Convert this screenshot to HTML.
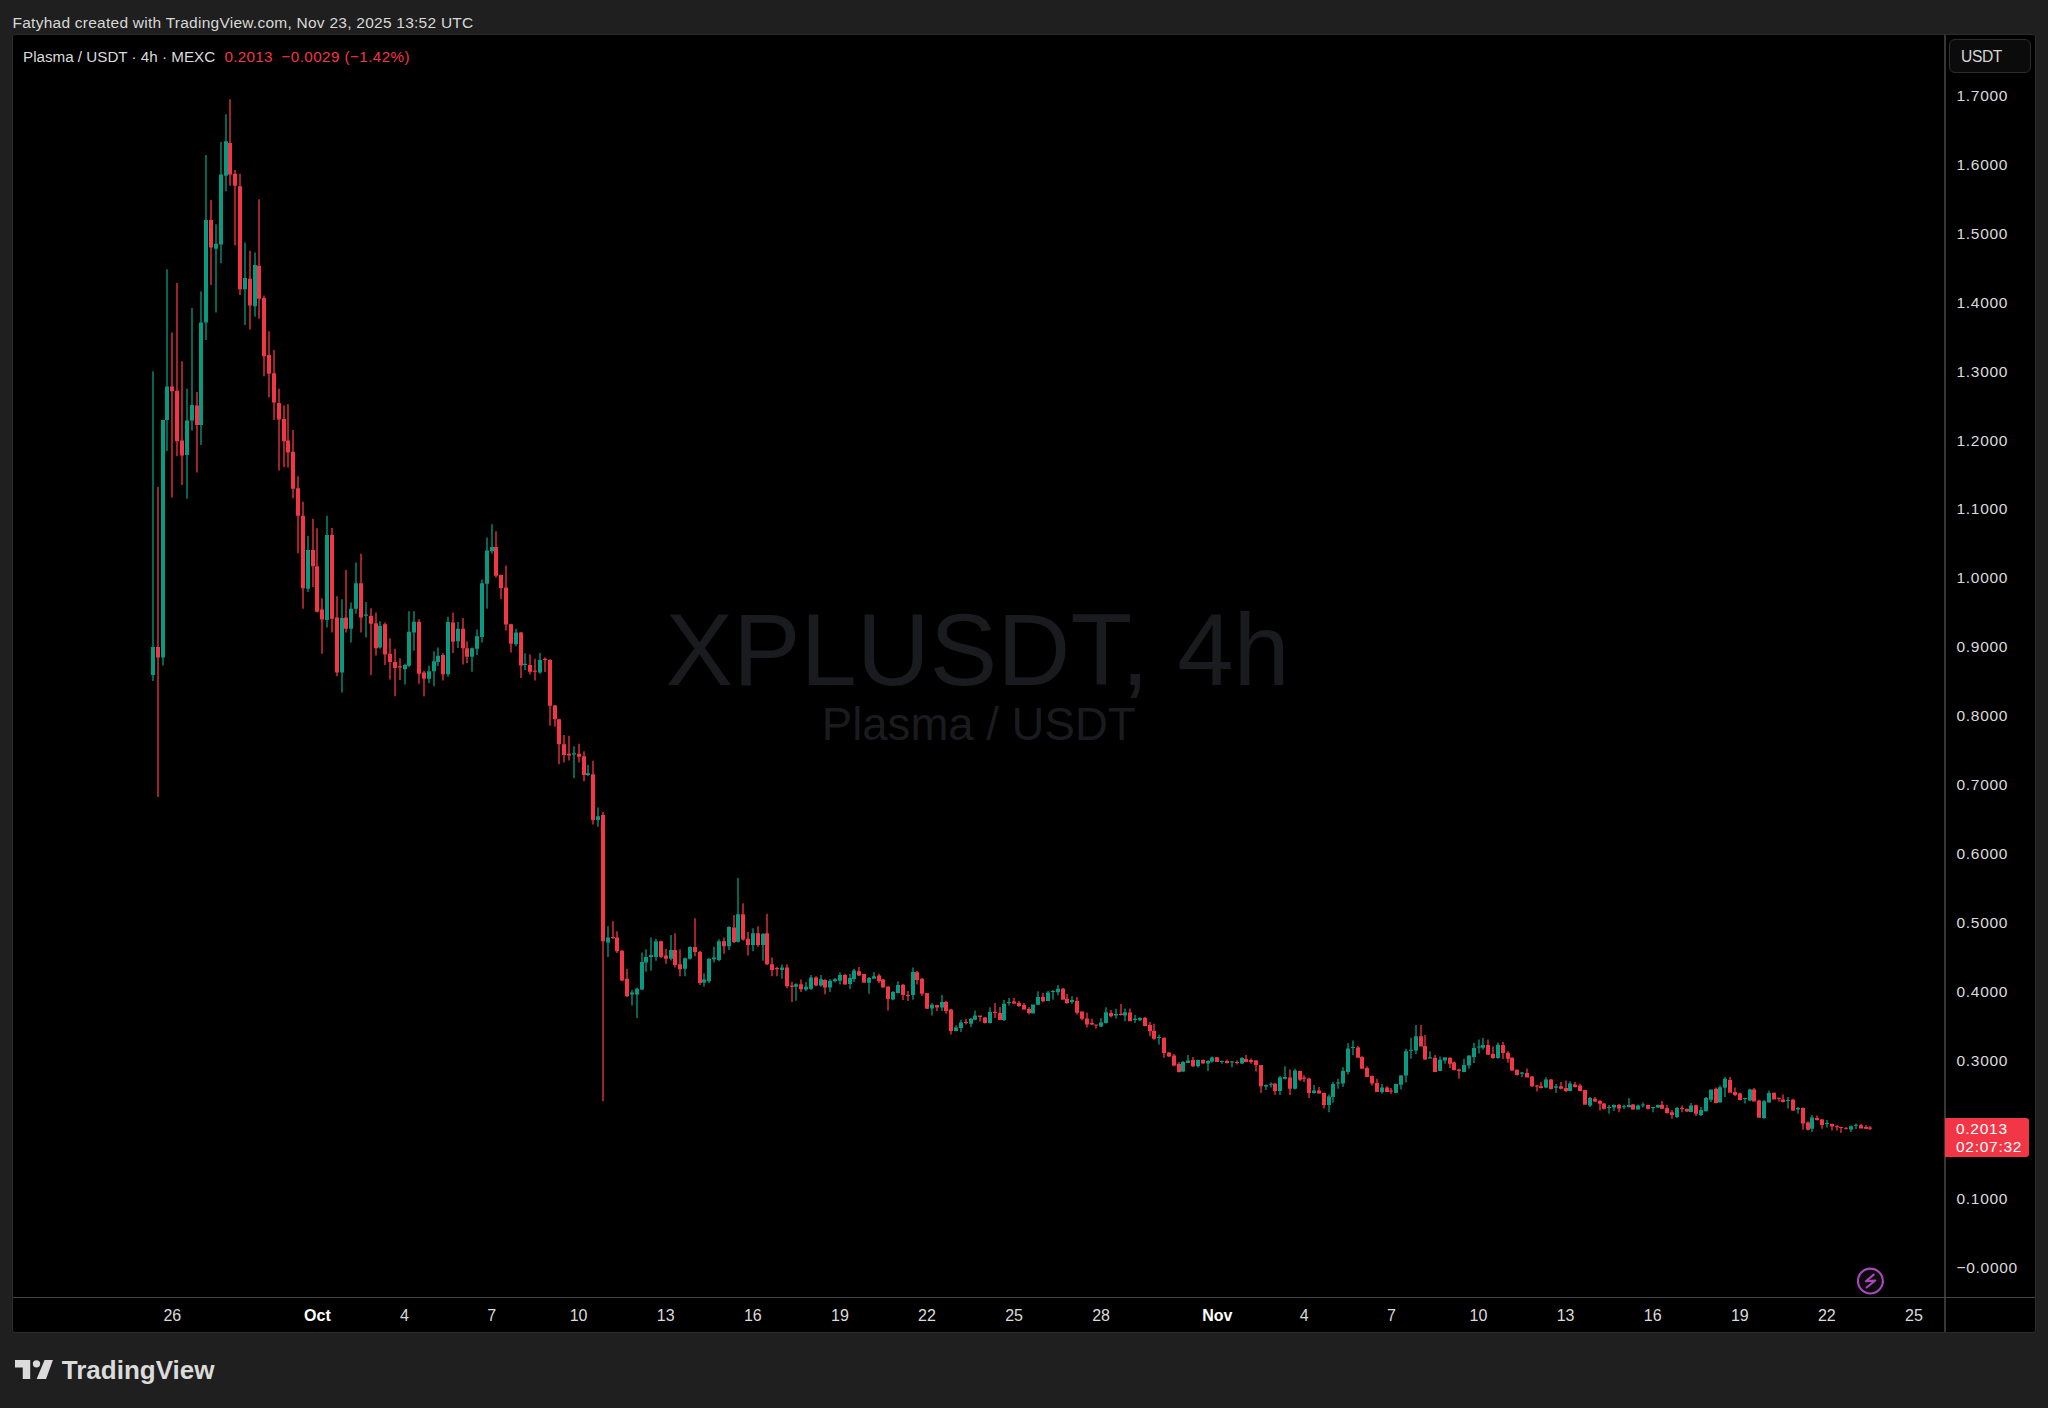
<!DOCTYPE html>
<html><head><meta charset="utf-8"><style>
*{margin:0;padding:0;box-sizing:border-box}
html,body{width:2048px;height:1408px;overflow:hidden;background:#1f1f1f;font-family:"Liberation Sans", sans-serif;}
.abs{position:absolute;white-space:pre}
#top{left:12.5px;top:14.3px;font-size:15.5px;letter-spacing:0.25px;color:#d8d8d8;line-height:18px}
#frame{position:absolute;left:12px;top:34px;width:2024px;height:1299px;border:1px solid #2b2b2b;border-radius:3px;background:#000}
.lg{top:48px;font-size:15.2px;line-height:18px}
.pl{position:absolute;left:1956.5px;font-size:15.5px;letter-spacing:0.7px;color:#dbdbdb;line-height:18px;white-space:pre}
.tl{position:absolute;top:1307px;width:80px;text-align:center;font-size:16px;color:#dbdbdb;line-height:18px}
.tl.b{font-weight:bold;color:#fff}
#usdt{position:absolute;left:1949px;top:39px;width:82px;height:34px;border:1px solid #2c2d30;border-radius:6px;background:#0b0b0b;color:#d6d6d6;font-size:15.6px;letter-spacing:-0.35px;line-height:34.4px;padding-left:11px}
#plabel{position:absolute;left:1945px;top:1118px;width:84px;height:39px;background:#f23645;border-radius:0 3px 3px 0;}
.plt{position:absolute;left:1956px;font-size:15.5px;letter-spacing:0.72px;color:#fff;line-height:18px;white-space:pre}
.wm{position:absolute;left:13px;width:1931px;text-align:center;color:#1a1b1e;white-space:pre}
svg{position:absolute}
</style></head><body>
<div id="frame"></div>
<div class="abs" id="top">Fatyhad created with TradingView.com, Nov 23, 2025 13:52 UTC</div>
<div class="wm" style="top:591.7px;left:12.15px;font-size:101.2px;line-height:115px">XPLUSDT, 4h</div>
<div class="wm" style="top:699px;font-size:45.56px;line-height:52px;padding-left:0.4px">Plasma / USDT</div>
<div class="abs" style="left:1944px;top:35px;width:2px;height:1297px;background:#363636"></div>
<div class="abs" style="left:13px;top:1297px;width:2022px;height:1px;background:#444"></div>
<div class="abs lg" style="left:23px;color:#dbdbdb">Plasma / USDT · 4h · MEXC</div>
<div class="abs lg" style="left:224.6px;color:#f23645;letter-spacing:0.3px">0.2013</div>
<div class="abs lg" style="left:281.5px;color:#f23645;letter-spacing:0.43px">−0.0029 (−1.42%)</div>
<div id="usdt">USDT</div>
<div class="pl" style="top:86.8px">1.7000</div><div class="pl" style="top:155.7px">1.6000</div><div class="pl" style="top:224.7px">1.5000</div><div class="pl" style="top:293.6px">1.4000</div><div class="pl" style="top:362.6px">1.3000</div><div class="pl" style="top:431.5px">1.2000</div><div class="pl" style="top:500.4px">1.1000</div><div class="pl" style="top:569.4px">1.0000</div><div class="pl" style="top:638.3px">0.9000</div><div class="pl" style="top:707.3px">0.8000</div><div class="pl" style="top:776.2px">0.7000</div><div class="pl" style="top:845.1px">0.6000</div><div class="pl" style="top:914.1px">0.5000</div><div class="pl" style="top:983.0px">0.4000</div><div class="pl" style="top:1052.0px">0.3000</div><div class="pl" style="top:1189.8px">0.1000</div><div class="pl" style="top:1258.8px">−0.0000</div>
<div class="tl" style="left:132.3px">26</div><div class="tl b" style="left:277.4px">Oct</div><div class="tl" style="left:364.5px">4</div><div class="tl" style="left:451.6px">7</div><div class="tl" style="left:538.6px">10</div><div class="tl" style="left:625.7px">13</div><div class="tl" style="left:712.8px">16</div><div class="tl" style="left:799.9px">19</div><div class="tl" style="left:887.0px">22</div><div class="tl" style="left:974.1px">25</div><div class="tl" style="left:1061.1px">28</div><div class="tl b" style="left:1177.3px">Nov</div><div class="tl" style="left:1264.3px">4</div><div class="tl" style="left:1351.4px">7</div><div class="tl" style="left:1438.5px">10</div><div class="tl" style="left:1525.6px">13</div><div class="tl" style="left:1612.7px">16</div><div class="tl" style="left:1699.8px">19</div><div class="tl" style="left:1786.8px">22</div><div class="tl" style="left:1873.9px">25</div>
<svg width="2048" height="1408" viewBox="0 0 2048 1408" style="left:0;top:0"><path fill="#089981" d="M152.35 371.25h1.3v309.75h-1.3zM151 647.00h4v28.00h-4zM162.35 420.00h1.3v245.50h-1.3zM161 420.00h4v237.50h-4zM166.35 269.25h1.3v181.75h-1.3zM165 386.50h4v33.50h-4zM186.35 388.75h1.3v110.00h-1.3zM185 420.50h4v34.50h-4zM191.35 308.00h1.3v122.50h-1.3zM190 405.00h4v15.50h-4zM200.35 291.25h1.3v153.75h-1.3zM199 322.50h4v102.50h-4zM205.35 155.00h1.3v185.00h-1.3zM204 220.00h4v102.50h-4zM215.35 224.25h1.3v88.25h-1.3zM214 243.75h4v5.00h-4zM220.35 142.00h1.3v121.25h-1.3zM219 174.50h4v70.00h-4zM225.35 114.25h1.3v77.00h-1.3zM224 141.25h4v34.50h-4zM244.35 242.50h1.3v82.50h-1.3zM243 278.00h4v11.25h-4zM254.35 252.50h1.3v64.25h-1.3zM253 265.00h4v41.25h-4zM307.35 535.75h1.3v56.25h-1.3zM306 550.00h4v38.75h-4zM326.35 515.75h1.3v111.75h-1.3zM325 535.00h4v85.00h-4zM341.35 599.25h1.3v93.25h-1.3zM340 618.00h4v54.50h-4zM350.35 602.50h1.3v40.00h-1.3zM349 608.75h4v20.00h-4zM355.35 562.50h1.3v51.25h-1.3zM354 583.25h4v25.50h-4zM365.35 602.00h1.3v35.50h-1.3zM364 614.50h4v1.25h-4zM379.35 621.25h1.3v27.50h-1.3zM378 625.75h4v21.75h-4zM404.35 663.75h1.3v20.75h-1.3zM403 665.00h4v4.25h-4zM408.35 611.25h1.3v55.75h-1.3zM407 631.75h4v34.00h-4zM413.35 611.25h1.3v39.50h-1.3zM412 621.75h4v10.75h-4zM428.35 665.75h1.3v17.50h-1.3zM427 671.25h4v7.50h-4zM433.35 651.25h1.3v35.00h-1.3zM432 661.25h4v10.00h-4zM437.35 647.50h1.3v18.75h-1.3zM436 655.75h4v6.25h-4zM447.35 616.75h1.3v60.00h-1.3zM446 622.00h4v52.25h-4zM457.35 622.00h1.3v26.00h-1.3zM456 628.75h4v12.50h-4zM471.35 647.50h1.3v24.25h-1.3zM470 648.25h4v8.50h-4zM476.35 629.50h1.3v25.50h-1.3zM475 636.25h4v12.50h-4zM481.35 579.50h1.3v63.00h-1.3zM480 583.25h4v53.75h-4zM486.35 537.50h1.3v71.25h-1.3zM485 550.50h4v33.25h-4zM491.35 524.25h1.3v29.50h-1.3zM490 547.00h4v4.25h-4zM515.35 628.75h1.3v17.50h-1.3zM514 632.50h4v11.75h-4zM524.35 653.25h1.3v16.75h-1.3zM523 663.75h4v1.25h-4zM539.35 653.00h1.3v20.75h-1.3zM538 660.00h4v12.50h-4zM573.35 746.25h1.3v32.00h-1.3zM572 753.25h4v1.25h-4zM587.35 765.00h1.3v11.25h-1.3zM586 773.25h4v1.75h-4zM597.35 807.50h1.3v19.25h-1.3zM596 816.25h4v3.75h-4zM607.35 926.25h1.3v30.75h-1.3zM606 937.50h4v5.00h-4zM631.35 990.00h1.3v15.50h-1.3zM630 992.50h4v2.00h-4zM636.35 987.50h1.3v30.50h-1.3zM635 988.75h4v5.75h-4zM641.35 952.50h1.3v37.50h-1.3zM640 962.00h4v27.50h-4zM645.35 949.25h1.3v22.50h-1.3zM644 957.00h4v5.50h-4zM650.35 937.50h1.3v33.25h-1.3zM649 955.00h4v2.00h-4zM655.35 938.75h1.3v22.00h-1.3zM654 941.25h4v15.75h-4zM670.35 935.00h1.3v25.50h-1.3zM669 950.00h4v8.75h-4zM684.35 957.50h1.3v18.75h-1.3zM683 958.25h4v10.50h-4zM689.35 946.25h1.3v13.25h-1.3zM688 947.00h4v11.75h-4zM703.35 973.25h1.3v13.50h-1.3zM702 979.50h4v3.00h-4zM708.35 958.00h1.3v25.00h-1.3zM707 958.75h4v22.50h-4zM713.35 946.75h1.3v15.75h-1.3zM712 957.50h4v1.75h-4zM718.35 939.25h1.3v22.00h-1.3zM717 941.25h4v18.75h-4zM728.35 926.25h1.3v23.75h-1.3zM727 927.00h4v19.25h-4zM737.35 878.00h1.3v64.50h-1.3zM736 914.25h4v27.50h-4zM752.35 928.25h1.3v23.00h-1.3zM751 933.25h4v11.75h-4zM762.35 933.25h1.3v27.50h-1.3zM761 933.75h4v11.25h-4zM781.35 964.50h1.3v14.25h-1.3zM780 967.50h4v2.50h-4zM795.35 983.25h1.3v17.50h-1.3zM794 984.25h4v2.50h-4zM805.35 982.00h1.3v9.25h-1.3zM804 986.75h4v2.75h-4zM810.35 975.00h1.3v15.00h-1.3zM809 977.50h4v11.25h-4zM820.35 975.00h1.3v11.75h-1.3zM819 979.25h4v6.25h-4zM829.35 979.25h1.3v12.75h-1.3zM828 980.75h4v6.75h-4zM834.35 978.00h1.3v4.50h-1.3zM833 979.25h4v2.00h-4zM839.35 972.50h1.3v12.00h-1.3zM838 975.00h4v5.75h-4zM849.35 974.00h1.3v15.00h-1.3zM848 978.10h4v5.90h-4zM853.35 968.75h1.3v13.15h-1.3zM852 970.60h4v8.40h-4zM868.35 976.90h1.3v16.85h-1.3zM867 978.10h4v4.65h-4zM873.35 971.90h1.3v6.85h-1.3zM872 976.25h4v2.50h-4zM892.35 990.90h1.3v9.35h-1.3zM891 991.90h4v7.50h-4zM897.35 981.25h1.3v12.25h-1.3zM896 985.00h4v8.10h-4zM912.35 967.50h1.3v32.25h-1.3zM911 971.90h4v23.10h-4zM931.35 1003.10h1.3v12.50h-1.3zM930 1004.75h4v3.75h-4zM941.35 995.00h1.3v16.00h-1.3zM940 1002.10h4v5.40h-4zM955.35 1025.25h1.3v6.00h-1.3zM954 1027.50h4v3.50h-4zM960.35 1019.75h1.3v12.15h-1.3zM959 1022.50h4v5.60h-4zM970.35 1018.10h1.3v8.80h-1.3zM969 1019.00h4v4.75h-4zM974.35 1010.40h1.3v9.60h-1.3zM973 1015.40h4v4.35h-4zM989.35 1007.25h1.3v16.25h-1.3zM988 1011.90h4v11.20h-4zM1003.35 1000.00h1.3v21.00h-1.3zM1002 1003.75h4v16.25h-4zM1008.35 998.10h1.3v7.30h-1.3zM1007 1001.90h4v1.00h-4zM1032.35 1004.40h1.3v9.10h-1.3zM1031 1004.40h4v9.10h-4zM1037.35 991.25h1.3v13.75h-1.3zM1036 996.90h4v7.85h-4zM1047.35 991.00h1.3v10.00h-1.3zM1046 992.50h4v8.50h-4zM1052.35 990.00h1.3v9.75h-1.3zM1051 991.00h4v1.00h-4zM1057.35 985.00h1.3v10.25h-1.3zM1056 988.75h4v3.50h-4zM1071.35 996.25h1.3v7.50h-1.3zM1070 1000.00h4v1.90h-4zM1100.35 1018.10h1.3v8.80h-1.3zM1099 1022.50h4v4.00h-4zM1105.35 1007.25h1.3v16.25h-1.3zM1104 1012.25h4v10.85h-4zM1115.35 1008.75h1.3v9.75h-1.3zM1114 1014.10h4v1.50h-4zM1124.35 1008.40h1.3v12.85h-1.3zM1123 1012.25h4v3.35h-4zM1134.35 1015.00h1.3v8.10h-1.3zM1133 1018.75h4v1.25h-4zM1139.35 1017.25h1.3v3.75h-1.3zM1138 1018.10h4v2.15h-4zM1158.35 1034.40h1.3v10.35h-1.3zM1157 1036.90h4v1.20h-4zM1182.35 1061.00h1.3v10.90h-1.3zM1181 1061.90h4v9.70h-4zM1187.35 1055.00h1.3v8.10h-1.3zM1186 1060.60h4v2.30h-4zM1197.35 1059.75h1.3v7.75h-1.3zM1196 1060.00h4v6.25h-4zM1207.35 1060.00h1.3v11.00h-1.3zM1206 1061.00h4v2.50h-4zM1211.35 1056.50h1.3v6.25h-1.3zM1210 1057.50h4v4.00h-4zM1221.35 1060.60h1.3v3.15h-1.3zM1220 1061.00h4v1.00h-4zM1231.35 1061.00h1.3v6.25h-1.3zM1230 1061.50h4v1.00h-4zM1241.35 1056.90h1.3v7.10h-1.3zM1240 1058.10h4v5.40h-4zM1265.35 1084.40h1.3v5.60h-1.3zM1264 1085.00h4v1.50h-4zM1270.35 1082.50h1.3v5.00h-1.3zM1269 1083.75h4v1.00h-4zM1279.35 1076.00h1.3v19.00h-1.3zM1278 1077.50h4v13.50h-4zM1284.35 1066.25h1.3v13.15h-1.3zM1283 1076.90h4v1.85h-4zM1294.35 1068.75h1.3v20.65h-1.3zM1293 1070.60h4v18.15h-4zM1313.35 1085.00h1.3v8.75h-1.3zM1312 1090.60h4v2.50h-4zM1328.35 1094.40h1.3v17.85h-1.3zM1327 1096.50h4v8.50h-4zM1332.35 1081.90h1.3v20.85h-1.3zM1331 1084.00h4v12.90h-4zM1337.35 1078.75h1.3v10.00h-1.3zM1336 1082.50h4v1.00h-4zM1342.35 1067.25h1.3v19.65h-1.3zM1341 1071.00h4v12.50h-4zM1347.35 1043.10h1.3v31.30h-1.3zM1346 1048.50h4v23.40h-4zM1352.35 1040.60h1.3v14.40h-1.3zM1351 1046.90h4v1.00h-4zM1381.35 1084.00h1.3v9.75h-1.3zM1380 1087.50h4v4.40h-4zM1395.35 1083.75h1.3v9.35h-1.3zM1394 1084.00h4v9.10h-4zM1400.35 1075.00h1.3v14.40h-1.3zM1399 1075.40h4v9.35h-4zM1405.35 1048.75h1.3v33.75h-1.3zM1404 1051.25h4v24.35h-4zM1410.35 1037.75h1.3v21.00h-1.3zM1409 1049.75h4v1.00h-4zM1415.35 1025.00h1.3v29.00h-1.3zM1414 1036.25h4v14.35h-4zM1429.35 1051.25h1.3v7.50h-1.3zM1428 1057.25h4v1.25h-4zM1439.35 1056.50h1.3v14.50h-1.3zM1438 1059.75h4v11.25h-4zM1444.35 1057.25h1.3v6.50h-1.3zM1443 1057.25h4v3.35h-4zM1463.35 1058.75h1.3v13.50h-1.3zM1462 1065.00h4v6.90h-4zM1468.35 1055.25h1.3v13.50h-1.3zM1467 1055.60h4v10.00h-4zM1473.35 1042.75h1.3v20.35h-1.3zM1472 1048.10h4v8.80h-4zM1478.35 1039.40h1.3v14.10h-1.3zM1477 1046.50h4v1.00h-4zM1482.35 1038.10h1.3v11.65h-1.3zM1481 1045.00h4v2.75h-4zM1497.35 1042.50h1.3v16.25h-1.3zM1496 1044.75h4v13.35h-4zM1521.35 1071.90h1.3v5.00h-1.3zM1520 1072.50h4v1.25h-4zM1545.35 1077.25h1.3v10.65h-1.3zM1544 1079.40h4v8.10h-4zM1555.35 1084.10h1.3v9.00h-1.3zM1554 1086.25h4v1.50h-4zM1569.35 1081.25h1.3v10.00h-1.3zM1568 1083.50h4v7.50h-4zM1589.35 1096.90h1.3v10.00h-1.3zM1588 1098.10h4v7.50h-4zM1608.35 1105.00h1.3v8.75h-1.3zM1607 1106.90h4v1.00h-4zM1613.35 1104.40h1.3v6.60h-1.3zM1612 1105.00h4v2.50h-4zM1623.35 1104.75h1.3v4.25h-1.3zM1622 1106.25h4v1.00h-4zM1628.35 1098.10h1.3v9.40h-1.3zM1627 1105.00h4v2.25h-4zM1637.35 1104.40h1.3v5.35h-1.3zM1636 1105.60h4v3.80h-4zM1642.35 1102.50h1.3v5.00h-1.3zM1641 1104.40h4v1.20h-4zM1652.35 1106.90h1.3v5.35h-1.3zM1651 1106.90h4v1.00h-4zM1657.35 1104.40h1.3v3.70h-1.3zM1656 1105.00h4v2.50h-4zM1676.35 1106.90h1.3v11.20h-1.3zM1675 1108.10h4v8.80h-4zM1690.35 1103.10h1.3v9.15h-1.3zM1689 1105.60h4v6.30h-4zM1700.35 1106.90h1.3v9.10h-1.3zM1699 1110.00h4v5.00h-4zM1705.35 1096.90h1.3v14.70h-1.3zM1704 1098.10h4v13.15h-4zM1710.35 1089.40h1.3v12.50h-1.3zM1709 1089.60h4v10.15h-4zM1719.35 1085.60h1.3v17.15h-1.3zM1718 1087.25h4v15.25h-4zM1724.35 1076.90h1.3v20.00h-1.3zM1723 1078.75h4v9.00h-4zM1744.35 1097.75h1.3v5.75h-1.3zM1743 1098.10h4v1.00h-4zM1749.35 1088.75h1.3v12.50h-1.3zM1748 1089.40h4v11.20h-4zM1763.35 1100.00h1.3v18.75h-1.3zM1762 1101.25h4v16.85h-4zM1768.35 1090.60h1.3v12.15h-1.3zM1767 1093.10h4v9.40h-4zM1787.35 1096.90h1.3v11.60h-1.3zM1786 1100.00h4v1.00h-4zM1797.35 1106.90h1.3v6.85h-1.3zM1796 1108.10h4v1.30h-4zM1811.35 1115.00h1.3v16.90h-1.3zM1810 1117.50h4v11.25h-4zM1826.35 1120.00h1.3v7.50h-1.3zM1825 1123.10h4v1.00h-4zM1850.35 1125.50h1.3v6.40h-1.3zM1849 1126.25h4v3.15h-4zM1855.35 1123.40h1.3v5.60h-1.3zM1854 1124.70h4v1.00h-4z"/><path fill="#f23645" d="M157.35 486.75h1.3v310.25h-1.3zM156 647.00h4v10.50h-4zM171.35 332.50h1.3v165.00h-1.3zM170 386.50h4v4.75h-4zM176.35 283.00h1.3v173.25h-1.3zM175 390.75h4v50.50h-4zM181.35 361.25h1.3v123.75h-1.3zM180 440.50h4v15.00h-4zM196.35 392.00h1.3v80.50h-1.3zM195 405.50h4v19.50h-4zM210.35 200.00h1.3v85.00h-1.3zM209 220.00h4v27.50h-4zM229.35 99.25h1.3v86.50h-1.3zM228 143.00h4v31.50h-4zM234.35 170.00h1.3v75.50h-1.3zM233 173.75h4v12.00h-4zM239.35 173.75h1.3v121.25h-1.3zM238 186.25h4v103.00h-4zM249.35 250.75h1.3v78.75h-1.3zM248 278.75h4v26.75h-4zM258.35 199.25h1.3v119.50h-1.3zM257 265.75h4v33.00h-4zM263.35 295.50h1.3v80.75h-1.3zM262 298.00h4v58.25h-4zM268.35 331.25h1.3v66.25h-1.3zM267 355.00h4v18.75h-4zM273.35 350.00h1.3v70.00h-1.3zM272 373.25h4v29.25h-4zM278.35 388.75h1.3v81.75h-1.3zM277 403.00h4v16.50h-4zM283.35 405.50h1.3v61.50h-1.3zM282 419.00h4v22.25h-4zM287.35 404.25h1.3v63.25h-1.3zM286 440.50h4v12.00h-4zM292.35 430.00h1.3v68.25h-1.3zM291 451.75h4v37.00h-4zM297.35 476.25h1.3v77.00h-1.3zM296 488.25h4v27.50h-4zM302.35 501.75h1.3v107.00h-1.3zM301 515.75h4v72.50h-4zM312.35 518.75h1.3v68.25h-1.3zM311 550.00h4v16.25h-4zM316.35 528.25h1.3v84.25h-1.3zM315 566.25h4v45.50h-4zM321.35 598.25h1.3v55.50h-1.3zM320 609.50h4v10.00h-4zM331.35 528.00h1.3v104.50h-1.3zM330 535.00h4v83.75h-4zM336.35 596.25h1.3v80.00h-1.3zM335 617.50h4v55.00h-4zM345.35 570.00h1.3v62.50h-1.3zM344 617.50h4v11.25h-4zM360.35 553.75h1.3v78.75h-1.3zM359 583.25h4v34.25h-4zM370.35 608.25h1.3v66.75h-1.3zM369 615.75h4v8.00h-4zM375.35 612.50h1.3v43.00h-1.3zM374 623.25h4v25.00h-4zM384.35 622.50h1.3v42.50h-1.3zM383 624.25h4v30.25h-4zM389.35 638.25h1.3v41.25h-1.3zM388 653.75h4v8.25h-4zM394.35 648.75h1.3v47.50h-1.3zM393 662.00h4v6.00h-4zM399.35 658.25h1.3v21.75h-1.3zM398 666.25h4v1.25h-4zM418.35 619.25h1.3v64.50h-1.3zM417 621.75h4v52.00h-4zM423.35 670.75h1.3v25.50h-1.3zM422 672.50h4v6.25h-4zM442.35 653.25h1.3v27.25h-1.3zM441 655.00h4v19.25h-4zM452.35 612.50h1.3v40.50h-1.3zM451 622.50h4v19.25h-4zM462.35 618.00h1.3v46.50h-1.3zM461 628.75h4v19.50h-4zM466.35 641.25h1.3v22.00h-1.3zM465 648.25h4v8.50h-4zM495.35 531.25h1.3v46.25h-1.3zM494 547.00h4v28.75h-4zM500.35 574.50h1.3v24.75h-1.3zM499 575.00h4v13.00h-4zM505.35 565.50h1.3v65.00h-1.3zM504 587.50h4v37.00h-4zM510.35 623.75h1.3v28.75h-1.3zM509 624.25h4v19.50h-4zM520.35 632.00h1.3v46.00h-1.3zM519 632.50h4v33.00h-4zM529.35 654.50h1.3v20.00h-1.3zM528 665.00h4v6.75h-4zM534.35 658.75h1.3v21.75h-1.3zM533 670.75h4v1.00h-4zM544.35 657.50h1.3v14.50h-1.3zM543 658.75h4v1.25h-4zM549.35 659.25h1.3v66.50h-1.3zM548 660.00h4v45.75h-4zM554.35 705.00h1.3v21.75h-1.3zM553 705.50h4v13.75h-4zM558.35 718.75h1.3v45.50h-1.3zM557 719.25h4v25.00h-4zM563.35 735.00h1.3v27.50h-1.3zM562 744.25h4v10.75h-4zM568.35 735.75h1.3v24.75h-1.3zM567 753.75h4v1.75h-4zM578.35 743.75h1.3v18.75h-1.3zM577 753.75h4v3.00h-4zM583.35 751.25h1.3v30.00h-1.3zM582 756.25h4v18.75h-4zM592.35 760.75h1.3v63.75h-1.3zM591 774.25h4v45.75h-4zM602.35 812.00h1.3v289.25h-1.3zM601 815.00h4v126.25h-4zM612.35 921.25h1.3v17.50h-1.3zM611 937.00h4v1.25h-4zM616.35 931.25h1.3v21.75h-1.3zM615 937.50h4v13.75h-4zM621.35 950.00h1.3v31.25h-1.3zM620 950.75h4v29.75h-4zM626.35 968.75h1.3v28.25h-1.3zM625 978.75h4v17.50h-4zM660.35 940.50h1.3v17.50h-1.3zM659 941.25h4v15.50h-4zM665.35 948.75h1.3v15.00h-1.3zM664 955.50h4v3.25h-4zM674.35 933.25h1.3v34.25h-1.3zM673 950.00h4v15.00h-4zM679.35 949.25h1.3v27.00h-1.3zM678 964.25h4v5.00h-4zM694.35 918.25h1.3v38.00h-1.3zM693 947.00h4v5.00h-4zM699.35 950.75h1.3v34.25h-1.3zM698 952.00h4v31.00h-4zM723.35 937.50h1.3v16.25h-1.3zM722 941.25h4v5.00h-4zM733.35 915.00h1.3v28.00h-1.3zM732 927.50h4v14.50h-4zM742.35 903.25h1.3v37.50h-1.3zM741 914.25h4v25.25h-4zM747.35 932.00h1.3v23.50h-1.3zM746 938.75h4v6.25h-4zM757.35 926.25h1.3v20.50h-1.3zM756 933.25h4v11.75h-4zM766.35 913.75h1.3v51.25h-1.3zM765 933.25h4v31.00h-4zM771.35 957.50h1.3v18.75h-1.3zM770 964.25h4v5.75h-4zM776.35 966.75h1.3v9.50h-1.3zM775 968.00h4v1.25h-4zM786.35 964.50h1.3v23.75h-1.3zM785 967.50h4v18.75h-4zM791.35 981.75h1.3v20.25h-1.3zM790 985.50h4v1.25h-4zM800.35 979.50h1.3v12.50h-1.3zM799 984.25h4v5.00h-4zM815.35 976.25h1.3v10.00h-1.3zM814 977.50h4v8.00h-4zM824.35 979.25h1.3v15.00h-1.3zM823 980.00h4v7.50h-4zM844.35 974.00h1.3v10.75h-1.3zM843 975.00h4v9.40h-4zM858.35 966.90h1.3v9.10h-1.3zM857 971.25h4v4.35h-4zM863.35 973.75h1.3v9.00h-1.3zM862 974.00h4v8.75h-4zM878.35 973.75h1.3v9.35h-1.3zM877 975.60h4v5.65h-4zM882.35 979.00h1.3v8.75h-1.3zM881 979.60h4v7.90h-4zM887.35 986.25h1.3v24.35h-1.3zM886 986.50h4v12.50h-4zM902.35 984.00h1.3v16.00h-1.3zM901 984.75h4v10.25h-4zM907.35 990.90h1.3v10.10h-1.3zM906 995.00h4v1.00h-4zM916.35 971.00h1.3v13.60h-1.3zM915 972.25h4v7.75h-4zM921.35 978.10h1.3v17.80h-1.3zM920 978.75h4v15.00h-4zM926.35 992.90h1.3v16.10h-1.3zM925 993.10h4v15.65h-4zM936.35 1004.75h1.3v6.25h-1.3zM935 1005.00h4v2.50h-4zM945.35 1001.00h1.3v12.75h-1.3zM944 1001.90h4v9.10h-4zM950.35 1008.75h1.3v25.65h-1.3zM949 1009.60h4v21.40h-4zM965.35 1019.10h1.3v5.30h-1.3zM964 1021.90h4v1.20h-4zM979.35 1015.40h1.3v6.20h-1.3zM978 1015.60h4v1.30h-4zM984.35 1016.90h1.3v6.60h-1.3zM983 1017.50h4v5.60h-4zM994.35 1002.90h1.3v15.20h-1.3zM993 1011.90h4v1.20h-4zM999.35 1006.90h1.3v13.35h-1.3zM998 1013.10h4v6.90h-4zM1013.35 998.10h1.3v5.65h-1.3zM1012 1001.50h4v2.25h-4zM1018.35 1001.00h1.3v5.90h-1.3zM1017 1002.75h4v3.25h-4zM1023.35 1003.10h1.3v6.65h-1.3zM1022 1005.00h4v4.40h-4zM1028.35 1006.90h1.3v7.50h-1.3zM1027 1009.00h4v4.10h-4zM1042.35 993.10h1.3v9.15h-1.3zM1041 996.90h4v4.35h-4zM1062.35 988.10h1.3v11.65h-1.3zM1061 988.75h4v11.00h-4zM1066.35 994.00h1.3v9.75h-1.3zM1065 998.75h4v4.35h-4zM1076.35 996.90h1.3v17.50h-1.3zM1075 1001.00h4v11.75h-4zM1081.35 1011.25h1.3v9.00h-1.3zM1080 1011.50h4v7.25h-4zM1086.35 1012.50h1.3v15.00h-1.3zM1085 1018.50h4v5.90h-4zM1091.35 1018.75h1.3v6.50h-1.3zM1090 1023.10h4v1.30h-4zM1095.35 1024.40h1.3v4.10h-1.3zM1094 1024.40h4v1.20h-4zM1110.35 1010.00h1.3v7.50h-1.3zM1109 1013.10h4v3.15h-4zM1120.35 1004.10h1.3v11.50h-1.3zM1119 1013.75h4v1.25h-4zM1129.35 1008.50h1.3v12.75h-1.3zM1128 1012.50h4v8.75h-4zM1144.35 1016.90h1.3v9.35h-1.3zM1143 1017.75h4v8.25h-4zM1149.35 1021.90h1.3v14.35h-1.3zM1148 1025.00h4v6.25h-4zM1153.35 1023.75h1.3v16.00h-1.3zM1152 1031.00h4v7.75h-4zM1163.35 1037.50h1.3v20.25h-1.3zM1162 1037.75h4v15.15h-4zM1168.35 1052.10h1.3v4.80h-1.3zM1167 1052.50h4v4.00h-4zM1173.35 1054.00h1.3v12.25h-1.3zM1172 1055.40h4v10.20h-4zM1178.35 1062.10h1.3v10.40h-1.3zM1177 1064.00h4v7.90h-4zM1192.35 1056.90h1.3v10.00h-1.3zM1191 1060.00h4v6.25h-4zM1202.35 1059.40h1.3v4.35h-1.3zM1201 1060.00h4v3.50h-4zM1216.35 1056.90h1.3v5.00h-1.3zM1215 1057.25h4v4.65h-4zM1226.35 1059.40h1.3v4.10h-1.3zM1225 1061.00h4v2.10h-4zM1236.35 1060.60h1.3v3.80h-1.3zM1235 1061.90h4v1.00h-4zM1245.35 1055.00h1.3v7.25h-1.3zM1244 1059.10h4v2.80h-4zM1250.35 1058.50h1.3v5.25h-1.3zM1249 1060.00h4v1.90h-4zM1255.35 1060.00h1.3v11.60h-1.3zM1254 1060.60h4v4.40h-4zM1260.35 1065.00h1.3v28.10h-1.3zM1259 1065.00h4v21.25h-4zM1274.35 1083.10h1.3v11.65h-1.3zM1273 1083.75h4v7.25h-4zM1289.35 1069.40h1.3v25.60h-1.3zM1288 1077.50h4v11.25h-4zM1299.35 1070.60h1.3v10.40h-1.3zM1298 1071.00h4v8.75h-4zM1303.35 1075.25h1.3v6.65h-1.3zM1302 1077.50h4v1.25h-4zM1308.35 1077.75h1.3v20.35h-1.3zM1307 1078.50h4v14.60h-4zM1318.35 1086.90h1.3v6.85h-1.3zM1317 1090.60h4v2.90h-4zM1323.35 1092.50h1.3v16.00h-1.3zM1322 1093.10h4v11.90h-4zM1357.35 1046.00h1.3v11.75h-1.3zM1356 1047.50h4v10.25h-4zM1361.35 1056.25h1.3v12.50h-1.3zM1360 1056.90h4v11.85h-4zM1366.35 1066.25h1.3v11.00h-1.3zM1365 1068.10h4v8.80h-4zM1371.35 1075.60h1.3v10.00h-1.3zM1370 1076.00h4v7.50h-4zM1376.35 1078.75h1.3v13.15h-1.3zM1375 1082.90h4v9.00h-4zM1386.35 1086.25h1.3v5.65h-1.3zM1385 1087.50h4v4.40h-4zM1390.35 1088.10h1.3v5.65h-1.3zM1389 1090.60h4v1.00h-4zM1420.35 1025.00h1.3v21.50h-1.3zM1419 1036.25h4v10.25h-4zM1424.35 1035.00h1.3v24.75h-1.3zM1423 1046.00h4v13.40h-4zM1434.35 1055.00h1.3v16.90h-1.3zM1433 1057.75h4v14.15h-4zM1449.35 1057.25h1.3v10.85h-1.3zM1448 1057.75h4v6.00h-4zM1453.35 1061.60h1.3v9.00h-1.3zM1452 1062.50h4v7.50h-4zM1458.35 1068.50h1.3v10.25h-1.3zM1457 1069.40h4v1.60h-4zM1487.35 1039.40h1.3v15.60h-1.3zM1486 1045.00h4v9.75h-4zM1492.35 1046.50h1.3v12.25h-1.3zM1491 1054.00h4v4.10h-4zM1502.35 1041.90h1.3v17.10h-1.3zM1501 1045.00h4v8.10h-4zM1507.35 1051.25h1.3v11.50h-1.3zM1506 1052.75h4v6.00h-4zM1511.35 1057.25h1.3v13.75h-1.3zM1510 1057.75h4v12.85h-4zM1516.35 1069.40h1.3v6.20h-1.3zM1515 1069.75h4v5.25h-4zM1526.35 1068.50h1.3v9.00h-1.3zM1525 1073.10h4v4.40h-4zM1531.35 1076.00h1.3v10.90h-1.3zM1530 1076.50h4v9.75h-4zM1536.35 1085.00h1.3v6.50h-1.3zM1535 1085.40h4v1.00h-4zM1540.35 1081.90h1.3v6.60h-1.3zM1539 1086.25h4v1.65h-4zM1550.35 1079.00h1.3v10.40h-1.3zM1549 1079.40h4v9.60h-4zM1560.35 1081.90h1.3v7.50h-1.3zM1559 1086.25h4v2.50h-4zM1565.35 1080.60h1.3v11.30h-1.3zM1564 1088.10h4v2.90h-4zM1574.35 1081.90h1.3v5.60h-1.3zM1573 1084.40h4v2.50h-4zM1579.35 1083.75h1.3v7.50h-1.3zM1578 1085.60h4v5.40h-4zM1584.35 1090.00h1.3v14.75h-1.3zM1583 1090.00h4v14.75h-4zM1594.35 1096.90h1.3v5.00h-1.3zM1593 1098.75h4v2.85h-4zM1599.35 1100.00h1.3v10.60h-1.3zM1598 1101.00h4v2.75h-4zM1603.35 1103.10h1.3v6.30h-1.3zM1602 1103.50h4v5.25h-4zM1618.35 1104.00h1.3v8.25h-1.3zM1617 1105.00h4v3.50h-4zM1632.35 1104.00h1.3v5.75h-1.3zM1631 1104.40h4v5.00h-4zM1647.35 1104.75h1.3v4.65h-1.3zM1646 1105.00h4v3.75h-4zM1661.35 1100.90h1.3v8.10h-1.3zM1660 1104.75h4v4.00h-4zM1666.35 1104.75h1.3v9.00h-1.3zM1665 1108.10h4v5.00h-4zM1671.35 1110.00h1.3v8.75h-1.3zM1670 1112.25h4v2.75h-4zM1681.35 1105.60h1.3v6.65h-1.3zM1680 1108.10h4v1.00h-4zM1686.35 1108.50h1.3v3.40h-1.3zM1685 1109.10h4v2.50h-4zM1695.35 1104.40h1.3v11.60h-1.3zM1694 1105.25h4v8.50h-4zM1715.35 1087.50h1.3v16.00h-1.3zM1714 1088.75h4v14.35h-4zM1729.35 1076.90h1.3v15.85h-1.3zM1728 1080.00h4v12.75h-4zM1734.35 1087.50h1.3v8.75h-1.3zM1733 1091.90h4v3.10h-4zM1739.35 1092.50h1.3v7.75h-1.3zM1738 1093.50h4v6.50h-4zM1753.35 1088.10h1.3v13.40h-1.3zM1752 1089.40h4v12.10h-4zM1758.35 1099.75h1.3v18.00h-1.3zM1757 1100.60h4v17.15h-4zM1773.35 1092.50h1.3v6.90h-1.3zM1772 1092.75h4v6.65h-4zM1778.35 1097.50h1.3v4.00h-1.3zM1777 1097.75h4v1.00h-4zM1782.35 1094.40h1.3v8.10h-1.3zM1781 1099.40h4v2.50h-4zM1792.35 1098.75h1.3v12.25h-1.3zM1791 1099.75h4v10.85h-4zM1802.35 1107.50h1.3v22.25h-1.3zM1801 1108.10h4v15.40h-4zM1807.35 1121.25h1.3v9.35h-1.3zM1806 1122.50h4v7.25h-4zM1816.35 1115.60h1.3v5.00h-1.3zM1815 1118.10h4v1.90h-4zM1821.35 1118.75h1.3v10.00h-1.3zM1820 1119.40h4v5.60h-4zM1831.35 1123.75h1.3v6.85h-1.3zM1830 1123.75h4v2.85h-4zM1836.35 1124.90h1.3v5.70h-1.3zM1835 1126.25h4v1.00h-4zM1840.35 1126.90h1.3v6.20h-1.3zM1839 1126.90h4v1.00h-4zM1845.35 1127.20h1.3v2.20h-1.3zM1844 1127.80h4v1.00h-4zM1860.35 1123.75h1.3v4.85h-1.3zM1859 1125.30h4v3.10h-4zM1865.35 1125.30h1.3v3.70h-1.3zM1864 1127.00h4v1.75h-4zM1869.35 1125.90h1.3v4.10h-1.3zM1868 1127.50h4v1.25h-4z"/></svg>
<div id="plabel"></div>
<div class="plt" style="top:1120px">0.2013</div>
<div class="plt" style="top:1137.5px">02:07:32</div>
<svg width="30" height="30" viewBox="0 0 30 30" style="left:1856px;top:1267px"><circle cx="14.4" cy="14.05" r="12.45" fill="#0c0c0c" stroke="#ab47bc" stroke-width="2.1"/><path d="M17.7 7.6 L9.9 14.3 L19.3 13.5 L10.6 20.5" fill="none" stroke="#ab47bc" stroke-width="2.1" stroke-linejoin="round" stroke-linecap="round"/></svg>
<svg width="220" height="60" viewBox="0 0 220 60" style="left:0;top:1340px">
<path d="M14.98 19.9 H30.2 V38.96 H22.75 V27.5 H14.98 Z" fill="#dbdbdb"/>
<circle cx="36.5" cy="23.87" r="3.66" fill="#dbdbdb"/>
<path d="M44.57 19.9 H52.92 L46.04 38.96 H36.66 Z" fill="#dbdbdb"/>
<text x="61.8" y="38.5" font-family="Liberation Sans" font-weight="bold" font-size="26" fill="#dbdbdb">TradingView</text>
</svg>
</body></html>
